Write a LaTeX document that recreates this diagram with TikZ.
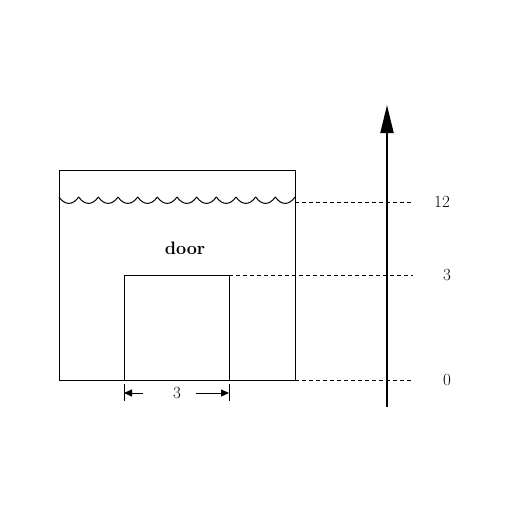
\documentclass[tikz,border=0pt]{standalone}
\usetikzlibrary{arrows.meta}
\begin{document}
\begin{tikzpicture}[x=1pt,y=-1pt,
  thinline/.style={line width=1pt},
  guide/.style={line width=1pt,dash pattern=on 4pt off 3pt},
  lab/.style={font=\fontsize{17}{19}\selectfont, inner sep=0pt},
  dimarrow/.style={line width=1pt,-{Triangle[length=8pt,width=7pt]}}]
\useasboundingbox (0,0) rectangle (512,512);
% outer wall
\draw[thinline] (59,170) rectangle (295,380);
% door
\draw[thinline] (124,275) rectangle (229,380);
% wave
\pgfmathsetmacro{\p}{236/12}
\foreach \k in {0,...,11}{
  \draw[thinline] ({59+\k*\p},197) .. controls ({59+\k*\p+0.3*\p},205.5) and ({59+(\k+1)*\p-0.3*\p},205.5) .. ({59+(\k+1)*\p},197);
}
\node[font=\fontsize{18}{20}\selectfont\bfseries, inner sep=0pt] (door) at (185,248) {door};
% coordinates
\coordinate (w12) at (295,202);
\coordinate (e12) at (413,202);
\coordinate (w3) at (229,275);
\coordinate (e3) at (413,275);
\coordinate (w0) at (295,380);
\coordinate (e0) at (413,380);
\draw[guide] (w12) -- (e12);
\draw[guide] (w3) -- (e3);
\draw[guide] (w0) -- (e0);
\node[lab] (l12) at (442,202) {12};
\node[lab] (l3) at (447,275) {3};
\node[lab] (l0) at (447,380) {0};
% axis
\coordinate (ab) at (387,407);
\coordinate (at) at (387,105);
\draw[line width=2pt,-{Triangle[length=28pt,width=13pt]}] (ab) -- (at);
% dimension
\draw[thinline] (124,384) -- (124,401);
\draw[thinline] (229,384) -- (229,401);
\node[lab] (d3) at (177,393) {3};
\coordinate (dl) at (124,393);
\coordinate (dr) at (229,393);
\coordinate (dls) at (143,393);
\coordinate (drs) at (196,393);
\draw[dimarrow] (dls) -- (dl);
\draw[dimarrow] (drs) -- (dr);
\end{tikzpicture}
\end{document}
